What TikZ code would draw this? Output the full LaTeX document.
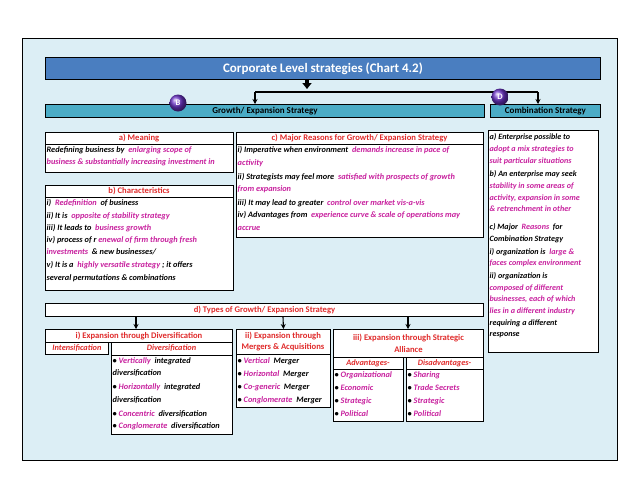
\documentclass[tikz,border=0pt]{standalone}
\usepackage{fontspec}
\setmainfont{Carlito}
\usetikzlibrary{arrows.meta,shadings}
\definecolor{panel}{HTML}{DCEEF5}
\definecolor{titleblue}{HTML}{4A7EC0}
\definecolor{barblue}{HTML}{4BACC6}
\definecolor{hred}{HTML}{E02A2A}
\definecolor{mag}{HTML}{C8209E}
\newcommand{\mg}[1]{\textcolor{mag}{#1}}
\begin{document}
\begin{tikzpicture}[x=1pt,y=-1pt,
 box/.style={draw=black,line width=0.9pt,fill=white,anchor=north west,inner sep=0pt},
 hdr/.style={font=\bfseries\fontsize{8.6}{9}\selectfont,text=hred},
 body/.style={anchor=north west,align=left,inner sep=1.5pt,font=\bfseries\itshape\fontsize{8.3}{12.2}\selectfont},
 arr/.style={-{Stealth[length=5pt,width=5pt]},line width=1.1pt},
 ball/.style={circle,ball color=violet!55!blue!80,text=white,font=\bfseries\fontsize{8.5}{9}\selectfont,inner sep=0pt,minimum size=17pt}]
\useasboundingbox (0,0) rectangle (638,493);
\fill[white] (0,0) rectangle (638,493);
\draw[fill=panel,line width=0.8pt] (22,38) rectangle (617,460);
% title
\node[box,fill=titleblue,minimum width=555,minimum height=22] (title) at (45,57) {};
\node[text=white,font=\bfseries\fontsize{13}{14}\selectfont] (tt) at (title.center) {Corporate Level strategies (Chart 4.2)};
\node[box,fill=barblue,minimum width=439,minimum height=13] (grow) at (45,104) {};
\node[font=\bfseries\fontsize{9}{9}\selectfont] (growt) at (grow.center) {Growth/ Expansion Strategy};
\node[box,fill=barblue,minimum width=110,minimum height=13] (comb) at (490,104) {};
\node[font=\bfseries\fontsize{9}{9}\selectfont] (combt) at (comb.center) {Combination Strategy};
\coordinate (j) at (307,92);
\coordinate (jl) at (255,92);
\coordinate (jr) at (538,92);
\draw[-{Triangle[length=6pt,width=9pt]},line width=3.5pt] (title.south -| j) -- (307,89);
\draw[line width=1.1pt,draw=black] (jl) -- (jr);
\draw[arr] (jl) -- (jl |- grow.north);
\draw[arr] (jr) -- (jr |- comb.north);
\node[ball] (b) at (178,103) {B};
\node[ball] (d) at (500,97) {D};
% meaning
\node[box,minimum width=188,minimum height=40] (mean) at (45,132) {};
\draw[line width=0.9pt] (45,144) -- (233,144);
\node[hdr] (meanh) at (139,138) {a) Meaning};
\node[body] (meanb) at (45,145) {Redefining business by \ \mg{enlarging scope of}\\ \mg{business \& substantially increasing investment in}};
% characteristics
\node[box,minimum width=188,minimum height=105] (char) at (45,185) {};
\draw[line width=0.9pt] (45,197) -- (233,197);
\node[hdr] (charh) at (139,191) {b) Characteristics};
\node[body] (charb) at (45,198) {i)\ \ \mg{Redefinition}\ \ of business\\ ii) It is \ \mg{opposite of stability strategy}\\ iii) It leads to \ \mg{business growth}\\ iv) process of r \mg{enewal of firm through fresh}\\ \mg{investments} \ \& new businesses/\\[1pt] v) It is a \ \mg{highly versatile strategy} ; it offers\\ several permutations \& combinations};
% reasons
\node[box,minimum width=247,minimum height=105] (reas) at (236,132) {};
\draw[line width=0.9pt] (236,144) -- (483,144);
\node[hdr] (reash) at (359.5,138) {c) Major Reasons for Growth/ Expansion Strategy};
\node[body] (reasb) at (236,145) {i) Imperative when environment \ \mg{demands increase in pace of}\\ \mg{activity}\\[2pt] ii) Strategists may feel more \ \mg{satisfied with prospects of growth}\\ \mg{from expansion}\\[2pt] iii) It may lead to greater \ \mg{control over market vis-a-vis}\\ iv) Advantages from \ \mg{experience curve \& scale of operations may}\\ \mg{accrue}};
% combination text
\node[box,minimum width=110,minimum height=222] (combb) at (488,130) {};
\node[body,font=\bfseries\itshape\fontsize{8.1}{11.7}\selectfont] (combtx) at (488,132) {a) Enterprise possible to\\ \mg{adopt a mix strategies to}\\ \mg{suit particular situations}\\[2pt] b) An enterprise may seek\\ \mg{stability in some areas of}\\ \mg{activity, expansion in some}\\ \mg{\& retrenchment in other}\\[6pt] c) Major \ \mg{Reasons} \ for\\ Combination Strategy\\[1pt] i) organization is \ \mg{large \&}\\ \mg{faces complex environment}\\[1pt] ii) organization is\\ \mg{composed of different}\\ \mg{businesses, each of which}\\ \mg{lies in a different industry}\\ requiring a different\\ response};
% types
\node[box,minimum width=438,minimum height=13] (types) at (45,303) {};
\node[hdr] (typest) at (types.center) {d) Types of Growth/ Expansion Strategy};
% i
\node[box,minimum width=187,minimum height=13] (div) at (45,329) {};
\node[hdr] (divt) at (div.center) {i) Expansion through Diversification};
\node[box,minimum width=63,minimum height=12,font=\bfseries\itshape\fontsize{8.3}{9}\selectfont,text=hred] (inten) at (45,342) {Intensification};
\node[box,minimum width=121,minimum height=92] (divs) at (111,342) {};
\draw[line width=0.9pt] (111,355) -- (232,355);
\node[font=\bfseries\itshape\fontsize{8.3}{9}\selectfont,text=hred] (divsh) at (171.5,348.5) {Diversification};
\node[body] (divsb) at (111,356) {\textbullet\ \mg{Vertically} \ integrated\\ diversification\\[2pt] \textbullet\ \mg{Horizontally} \ integrated\\ diversification\\[2pt] \textbullet\ \mg{Concentric} \ diversification\\ \textbullet\ \mg{Conglomerate} \ diversification};
% ii
\node[box,minimum width=94,minimum height=78] (mer) at (236,329) {};
\draw[line width=0.9pt] (236,354) -- (330,354);
\node[hdr,align=center,font=\bfseries\fontsize{8.6}{11.5}\selectfont] (mert) at (283,341.5) {ii) Expansion through\\ Mergers \& Acquisitions};
\node[body,font=\bfseries\itshape\fontsize{8.3}{13}\selectfont] (merb) at (236,356) {\textbullet\ \mg{Vertical} \ Merger\\ \textbullet\ \mg{Horizontal} \ Merger\\ \textbullet\ \mg{Co-generic} \ Merger\\ \textbullet\ \mg{Conglomerate} \ Merger};
% iii
\node[box,minimum width=150,minimum height=28] (all) at (333,329) {};
\node[hdr,align=center,font=\bfseries\fontsize{8.6}{11.5}\selectfont] (allt) at (all.center) {iii) Expansion through Strategic\\ Alliance};
\node[box,minimum width=70,minimum height=64] (adv) at (333,357) {};
\draw[line width=0.9pt] (333,369) -- (403,369);
\node[font=\bfseries\itshape\fontsize{8.3}{9}\selectfont,text=hred] (advh) at (368,363) {Advantages-};
\node[body,font=\bfseries\itshape\fontsize{8.3}{13}\selectfont] (advb) at (333,370) {\textbullet\ \mg{Organizational}\\ \textbullet\ \mg{Economic}\\ \textbullet\ \mg{Strategic}\\ \textbullet\ \mg{Political}};
\node[box,minimum width=77,minimum height=64] (dis) at (406,357) {};
\draw[line width=0.9pt] (406,369) -- (483,369);
\node[font=\bfseries\itshape\fontsize{8.3}{9}\selectfont,text=hred] (dish) at (444.5,363) {Disadvantages-};
\node[body,font=\bfseries\itshape\fontsize{8.3}{13}\selectfont] (disb) at (406,370) {\textbullet\ \mg{Sharing}\\ \textbullet\ \mg{Trade Secrets}\\ \textbullet\ \mg{Strategic}\\ \textbullet\ \mg{Political}};
% arrows from types
\draw[arr] (types.south -| 136,0) -- (136,329);
\draw[arr] (types.south -| 283,0) -- (mer.north);
\draw[arr] (types.south -| 408,0) -- (408,329);
\end{tikzpicture}
\end{document}
